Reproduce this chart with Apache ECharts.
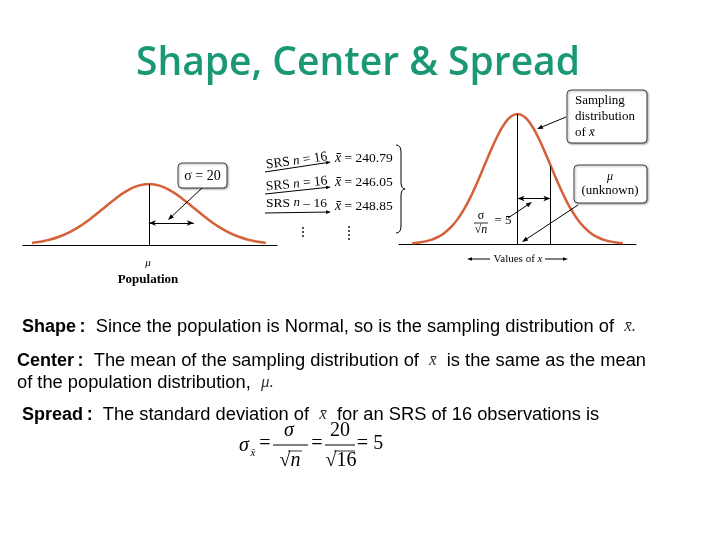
<!DOCTYPE html>
<html><head><meta charset="utf-8">
<script src="https://cdn.jsdelivr.net/npm/echarts@6/dist/echarts.min.js"></script>
<style>html,body{margin:0;padding:0;background:#fff}#c{width:720px;height:540px}</style>
</head><body><div id="c"></div>
<script>
// ---- data (heights as % of each curve's peak) ----
const titleText = 'Shape, Center & Spread';
const popX = [198,200,205,210,215,220,225,230,235,240,245,250,255,260,265,270,275,280,285,290,295,300,302];
const popY = [3.4,4.4,8.0,13.5,21.6,32.5,45.8,60.7,75.5,88.2,96.9,100,96.9,88.2,75.5,60.7,45.8,32.5,21.6,13.5,8.0,4.4,3.4];
const sampX = [234,235,236,237,238,239,240,241,242,243,244,245,246,247,248,249,250,251,252,253,254,255,256,257,258,259,260,261,262,263,264,265,266];
const sampY = [0.6,1.1,2.0,3.4,5.6,8.9,13.5,19.8,27.8,37.5,48.7,60.7,72.6,83.5,92.3,98.0,100,98.0,92.3,83.5,72.6,60.7,48.7,37.5,27.8,19.8,13.5,8.9,5.6,3.4,2.0,1.1,0.6];
const mu = 250;
const sigma = 20;
const sigmaXbar = 5;
const sampleN = [16, 16, 16];
const sampleMeans = ['240.79', '246.05', '248.85'];
const bodyLines = [
  'Since the population is Normal, so is the sampling distribution of',
  'The mean of the sampling distribution of',
  'is the same as the mean',
  'of the population distribution,',
  'The standard deviation of',
  'for an SRS of 16 observations is'
];

const CURVE = '#D4613A';
const SERIF = 'Liberation Serif';
const SANS = 'Liberation Sans';
const XBAR = 'x\u0304';

function txt(x, y, text, o) {
  o = o || {};
  const st = Object.assign({ text: text, fill: '#000', fontFamily: SERIF, fontSize: 14 }, o);
  const al = o.align || 'left', va = o.verticalAlign || 'middle';
  st.align = al; st.textAlign = al; st.verticalAlign = va; st.textVerticalAlign = va;
  const el = { type: 'text', x: x, y: y, style: st, z: 10 };
  if (o.rotation) { el.rotation = o.rotation; delete st.rotation; }
  return el;
}
function seg(x1, y1, x2, y2, w) {
  return { type: 'line', z: 10, shape: { x1: x1, y1: y1, x2: x2, y2: y2 }, style: { stroke: '#000', lineWidth: w || 1 } };
}
function quad(x1, y1, cx, cy, x2, y2) {
  return { type: 'bezierCurve', z: 10, shape: { x1: x1, y1: y1, cpx1: cx, cpy1: cy, x2: x2, y2: y2 }, style: { stroke: '#000', lineWidth: 1, fill: null } };
}
function arrow(x1, y1, x2, y2, head, wid) {
  const h = head || 6, w = wid || 2.2;
  const dx = x2 - x1, dy = y2 - y1, L = Math.hypot(dx, dy), ux = dx / L, uy = dy / L;
  const bx = x2 - ux * h, by = y2 - uy * h;
  return [seg(x1, y1, bx, by),
    { type: 'polygon', z: 10, shape: { points: [[x2, y2], [bx - uy * w, by + ux * w], [bx + uy * w, by - ux * w]] }, style: { fill: '#000' } }];
}
function box(x, y, w, h) {
  return { type: 'rect', z: 9, shape: { x: x, y: y, width: w, height: h, r: 4 },
    style: { fill: '#fff', stroke: '#444', lineWidth: 1, shadowBlur: 2, shadowOffsetX: 1, shadowOffsetY: 1, shadowColor: 'rgba(0,0,0,0.35)' } };
}
function dots(x, ys) {
  return ys.map(y => ({ type: 'circle', z: 10, shape: { cx: x, cy: y, r: 0.9 }, style: { fill: '#000' } }));
}

const bodyRich = {
  b: { fontFamily: SANS, fontWeight: 'bold', fontSize: 18, fill: '#000' },
  m: { fontFamily: SERIF, fontStyle: 'italic', fontSize: 17, fill: '#333' }
};
const iRich = { i: { fontFamily: SERIF, fontStyle: 'italic', fontSize: 13, fill: '#000' } };
const iRich14 = { i: { fontFamily: SERIF, fontStyle: 'italic', fontSize: 14, fill: '#000' } };

let els = [];
// title
els.push(txt(358, 64, titleText, { fontFamily: 'Open Sans', fontWeight: 600, fontSize: 39, fill: '#1A9876', align: 'center' }));

// --- left panel annotations ---
els.push(box(178, 163, 49, 25));
els.push(txt(202.5, 176, '\u03C3 = ' + sigma, { align: 'center', fontSize: 14 }));
els = els.concat(arrow(202, 188, 168, 220));
els.push(txt(148, 263, '\u03BC', { align: 'center', fontStyle: 'italic', fontSize: 11 }));
els.push(txt(148, 280, 'Population', { align: 'center', fontWeight: 'bold', fontSize: 13 }));

// --- SRS samples ---
const srsY = [165, 187, 203];
const srsRot = [0.135, 0.1, 0];
const srsArrow = [[265, 172, 331, 162], [265, 194, 331, 187], [265, 213, 331, 212]];
const srsOp = ['=', '=', '\u2013'];
for (let k = 0; k < 3; k++) {
  els.push(txt(266, srsY[k], 'SRS {i|n} ' + srsOp[k] + ' ' + sampleN[k], { rich: iRich, fontSize: 13.5, rotation: srsRot[k] }));
  els = els.concat(arrow(...srsArrow[k], 5, 1.8));
  els.push(txt(335, [158, 182, 206][k], '{i|' + XBAR + '} = ' + sampleMeans[k], { rich: iRich14, fontSize: 13.5 }));
}
els = els.concat(dots(303, [228, 232, 236]), dots(349, [227, 231, 235, 239]));
// curly brace
els.push(quad(396, 145, 401, 145, 401, 152));
els.push(seg(401, 152, 401, 182));
els.push(quad(401, 182, 401, 189, 405, 189));
els.push(quad(405, 189, 401, 189, 401, 196));
els.push(seg(401, 196, 401, 226));
els.push(quad(401, 226, 401, 233, 396, 233));

// --- right panel annotations ---
els.push(box(567, 90, 80, 53));
els.push(txt(575, 101, 'Sampling', { fontSize: 13 }));
els.push(txt(575, 117, 'distribution', { fontSize: 13 }));
els.push(txt(575, 133, 'of {i|' + XBAR + '}', { fontSize: 13, rich: { i: { fontFamily: SERIF, fontStyle: 'italic', fontSize: 13, fill: '#000' } } }));
els = els.concat(arrow(566, 117, 537, 129));
els.push(box(574, 165, 73, 38));
els.push(txt(610, 177, '\u03BC', { align: 'center', fontStyle: 'italic', fontSize: 12 }));
els.push(txt(610, 191, '(unknown)', { align: 'center', fontSize: 13 }));
els = els.concat(arrow(578, 205, 522, 242));
els.push(txt(481, 216, '\u03C3', { align: 'center', fontSize: 12 }));
els.push(seg(474, 223, 488, 223, 0.8));
els.push(txt(481, 230, '\u221A{i|n}', { align: 'center', fontSize: 12, rich: { i: { fontFamily: SERIF, fontStyle: 'italic', fontSize: 12, fill: '#000' } } }));
els.push(txt(503, 221, '= ' + sigmaXbar, { align: 'center', fontSize: 13 }));
els = els.concat(arrow(508, 218, 532, 202));
els = els.concat(arrow(490, 259, 467, 259, 5, 1.8));
els.push(txt(518, 259, 'Values of {i|x}', { align: 'center', fontSize: 11, rich: { i: { fontFamily: SERIF, fontStyle: 'italic', fontSize: 11, fill: '#000' } } }));
els = els.concat(arrow(545, 259, 568, 259, 5, 1.8));

// --- body text ---
const bst = { fontFamily: SANS, fontSize: 18.3, rich: bodyRich };
els.push(txt(22, 327, '{b|Shape\u2009:}  ' + bodyLines[0] + '  {m|' + XBAR + '.}', bst));
els.push(txt(17, 361, '{b|Center\u2009:}  ' + bodyLines[1] + '  {m|' + XBAR + '}  ' + bodyLines[2], bst));
els.push(txt(17, 383, bodyLines[3] + '  {m|\u03BC.}', bst));
els.push(txt(22, 415, '{b|Spread\u2009:}  ' + bodyLines[4] + '  {m|' + XBAR + '}  ' + bodyLines[5], bst));

// --- formula ---
const fs = { fontSize: 20, align: 'center' };
const iRich20 = { i: { fontFamily: SERIF, fontStyle: 'italic', fontSize: 20, fill: '#000' } };
els.push(txt(244, 446, '\u03C3', Object.assign({}, fs, { fontStyle: 'italic' })));
els.push(txt(253, 453, XBAR, { fontSize: 11, fontStyle: 'italic', align: 'center' }));
els.push(txt(265, 444, '=', fs));
els.push(txt(289, 431, '\u03C3', Object.assign({}, fs, { fontStyle: 'italic' })));
els.push(seg(273, 445, 308, 445, 1));
els.push(txt(290, 461, '\u221A{i|n}', Object.assign({}, fs, { rich: iRich20 })));
els.push(seg(288, 451, 302, 451, 0.8));
els.push(txt(317, 444, '=', fs));
els.push(txt(340, 431, String(sigma), fs));
els.push(seg(325, 445, 355, 445, 1));
els.push(txt(341, 461, '\u221A16', fs));
els.push(seg(334, 451, 355, 451, 0.8));
els.push(txt(370, 444, '= ' + sigmaXbar, fs));

const axisCommon = {
  type: 'value', axisTick: { show: false }, axisLabel: { show: false }, splitLine: { show: false },
  axisLine: { show: true, lineStyle: { color: '#000', width: 1.2 } }
};
const yCommon = { type: 'value', min: 0, max: 100, show: false };
const mlStyle = { color: '#000', width: 1, type: 'solid' };

const option = {
  animation: false,
  backgroundColor: '#fff',
  grid: [
    { left: 23, top: 184, width: 254, height: 61 },
    { left: 399, top: 114, width: 237, height: 130 }
  ],
  xAxis: [
    Object.assign({ gridIndex: 0, min: 194, max: 307 }, axisCommon),
    Object.assign({ gridIndex: 1, min: 232, max: 268 }, axisCommon)
  ],
  yAxis: [Object.assign({ gridIndex: 0 }, yCommon), Object.assign({ gridIndex: 1 }, yCommon)],
  series: [
    {
      type: 'line', xAxisIndex: 0, yAxisIndex: 0, smooth: true, symbol: 'none',
      data: popX.map((x, i) => [x, popY[i]]),
      lineStyle: { color: CURVE, width: 2.5 },
      markLine: {
        silent: true, symbol: ['none', 'none'], label: { show: false }, lineStyle: mlStyle, emphasis: { disabled: true },
        data: [
          [{ coord: [mu, 0] }, { coord: [mu, 100] }],
          [{ coord: [mu, 36], symbol: 'arrow', symbolSize: [4, 7] }, { coord: [mu + sigma, 36], symbol: 'arrow', symbolSize: [4, 7] }]
        ]
      }
    },
    {
      type: 'line', xAxisIndex: 1, yAxisIndex: 1, smooth: true, symbol: 'none',
      data: sampX.map((x, i) => [x, sampY[i]]),
      lineStyle: { color: CURVE, width: 2.5 },
      markLine: {
        silent: true, symbol: ['none', 'none'], label: { show: false }, lineStyle: mlStyle, emphasis: { disabled: true },
        data: [
          [{ coord: [mu, 0] }, { coord: [mu, 100] }],
          [{ coord: [mu + sigmaXbar, 0] }, { coord: [mu + sigmaXbar, 60] }],
          [{ coord: [mu, 35], symbol: 'arrow', symbolSize: [4, 7] }, { coord: [mu + sigmaXbar, 35], symbol: 'arrow', symbolSize: [4, 7] }]
        ]
      }
    }
  ],
  graphic: { elements: els }
};
const chart = echarts.init(document.getElementById('c'));
chart.setOption(option);
</script>
</body></html>
